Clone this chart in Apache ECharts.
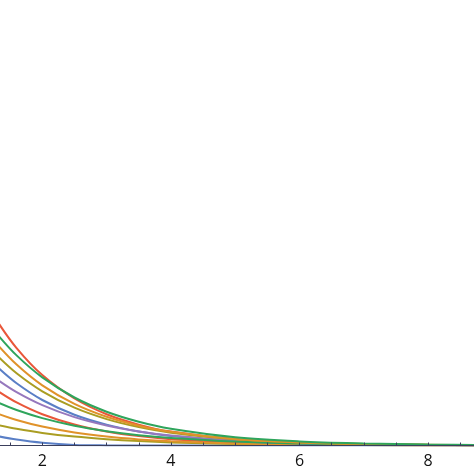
<!DOCTYPE html>
<html>
<head>
<meta charset="utf-8">
<script src="https://cdn.jsdelivr.net/npm/echarts@6/dist/echarts.min.js"></script>
<style>html,body{margin:0;padding:0;background:#fff}#c{width:474px;height:474px}</style>
</head>
<body>
<div id="c"></div>
<script>
var xs = [1.3, 1.6, 2, 2.5, 3, 3.5, 4, 5, 6, 7, 8, 9];
var c1 = [124.2, 97.4, 70.4, 47.0, 31.3, 20.9, 13.9, 6.2, 2.8, 1.2, 0.55, 0.24];
var c2 = [111.2, 90.1, 68.1, 48.0, 33.8, 23.8, 16.8, 8.3, 4.1, 2.1, 1.0, 0.5];
var c3 = [101.1, 81.0, 60.2, 41.6, 28.7, 19.8, 13.7, 6.5, 3.1, 1.5, 0.7, 0.34];
var c4 = [89.7, 72.2, 54.2, 37.8, 26.4, 18.4, 12.8, 6.2, 3.0, 1.5, 0.72, 0.35];
var c5 = [78.5, 62.2, 45.5, 30.8, 20.9, 14.1, 9.6, 4.4, 2.0, 0.92, 0.42, 0.19];
var c6 = [65.9, 53.4, 40.4, 28.4, 20.0, 14.1, 10.0, 4.9, 2.5, 1.2, 0.6, 0.3];
var c7 = [54.8, 43.1, 31.3, 21.0, 14.1, 9.4, 6.3, 2.8, 1.3, 0.57, 0.26, 0.12];
var c8 = [43.2, 35.5, 27.4, 19.8, 14.3, 10.3, 7.5, 3.9, 2.0, 1.1, 0.55, 0.29];
var c9 = [32.0, 25.5, 18.9, 13.0, 8.9, 6.1, 4.2, 2.0, 0.94, 0.45, 0.21, 0.1];
var c10 = [20.6, 16.7, 12.6, 8.9, 6.3, 4.4, 3.1, 1.5, 0.77, 0.38, 0.19, 0.09];
var c11 = [9.4, 6.0, 2.8, 0.6, 0.1, 0.02, 0.01, 0, 0, 0, 0, 0];
var xLabels = [2, 4, 6, 8];
var xTickVals = [1.5, 2, 2.5, 3, 3.5, 4, 4.5, 5, 5.5, 6, 6.5, 7, 7.5, 8, 8.5];

var curves = [c1, c2, c3, c4, c5, c6, c7, c8, c9, c10, c11];
var colors = ['#e9573a', '#2fa55c', '#e0922a', '#aa9d22', '#5a7fc6', '#9678bd',
              '#e9573a', '#2fa55c', '#e0922a', '#aa9d22', '#5a7fc6'];
var zs = [3, 14, 12, 11, 8, 9, 4, 10, 6, 5, 2];

var series = curves.map(function (arr, i) {
  return {
    type: 'line',
    data: xs.map(function (x, j) { return [x, arr[j]]; }),
    showSymbol: false,
    smooth: 0.35,
    clip: true,
    lineStyle: { color: colors[i], width: 2 },
    z: zs[i]
  };
});

var chart = echarts.init(document.getElementById('c'));
chart.setOption({
  animation: false,
  backgroundColor: '#fff',
  grid: { left: 0, right: 0, top: 0, bottom: 28.5, containLabel: false },
  xAxis: {
    type: 'value', min: 1.342, max: 8.714,
    z: 20,
    axisLine: { show: true, lineStyle: { color: '#3b3f5c', width: 1.2 } },
    axisTick: { show: true, inside: true, length: 3, customValues: xTickVals, lineStyle: { color: '#3b3f5c' } },
    splitLine: { show: false },
    axisLabel: {
      color: '#111', fontSize: 16, margin: 8, fontFamily: 'Open Sans',
      customValues: xLabels,
      formatter: function (v) { return String(v); }
    }
  },
  yAxis: { type: 'value', min: 0, max: 445.5, show: false },
  series: series
});
</script>
</body>
</html>
